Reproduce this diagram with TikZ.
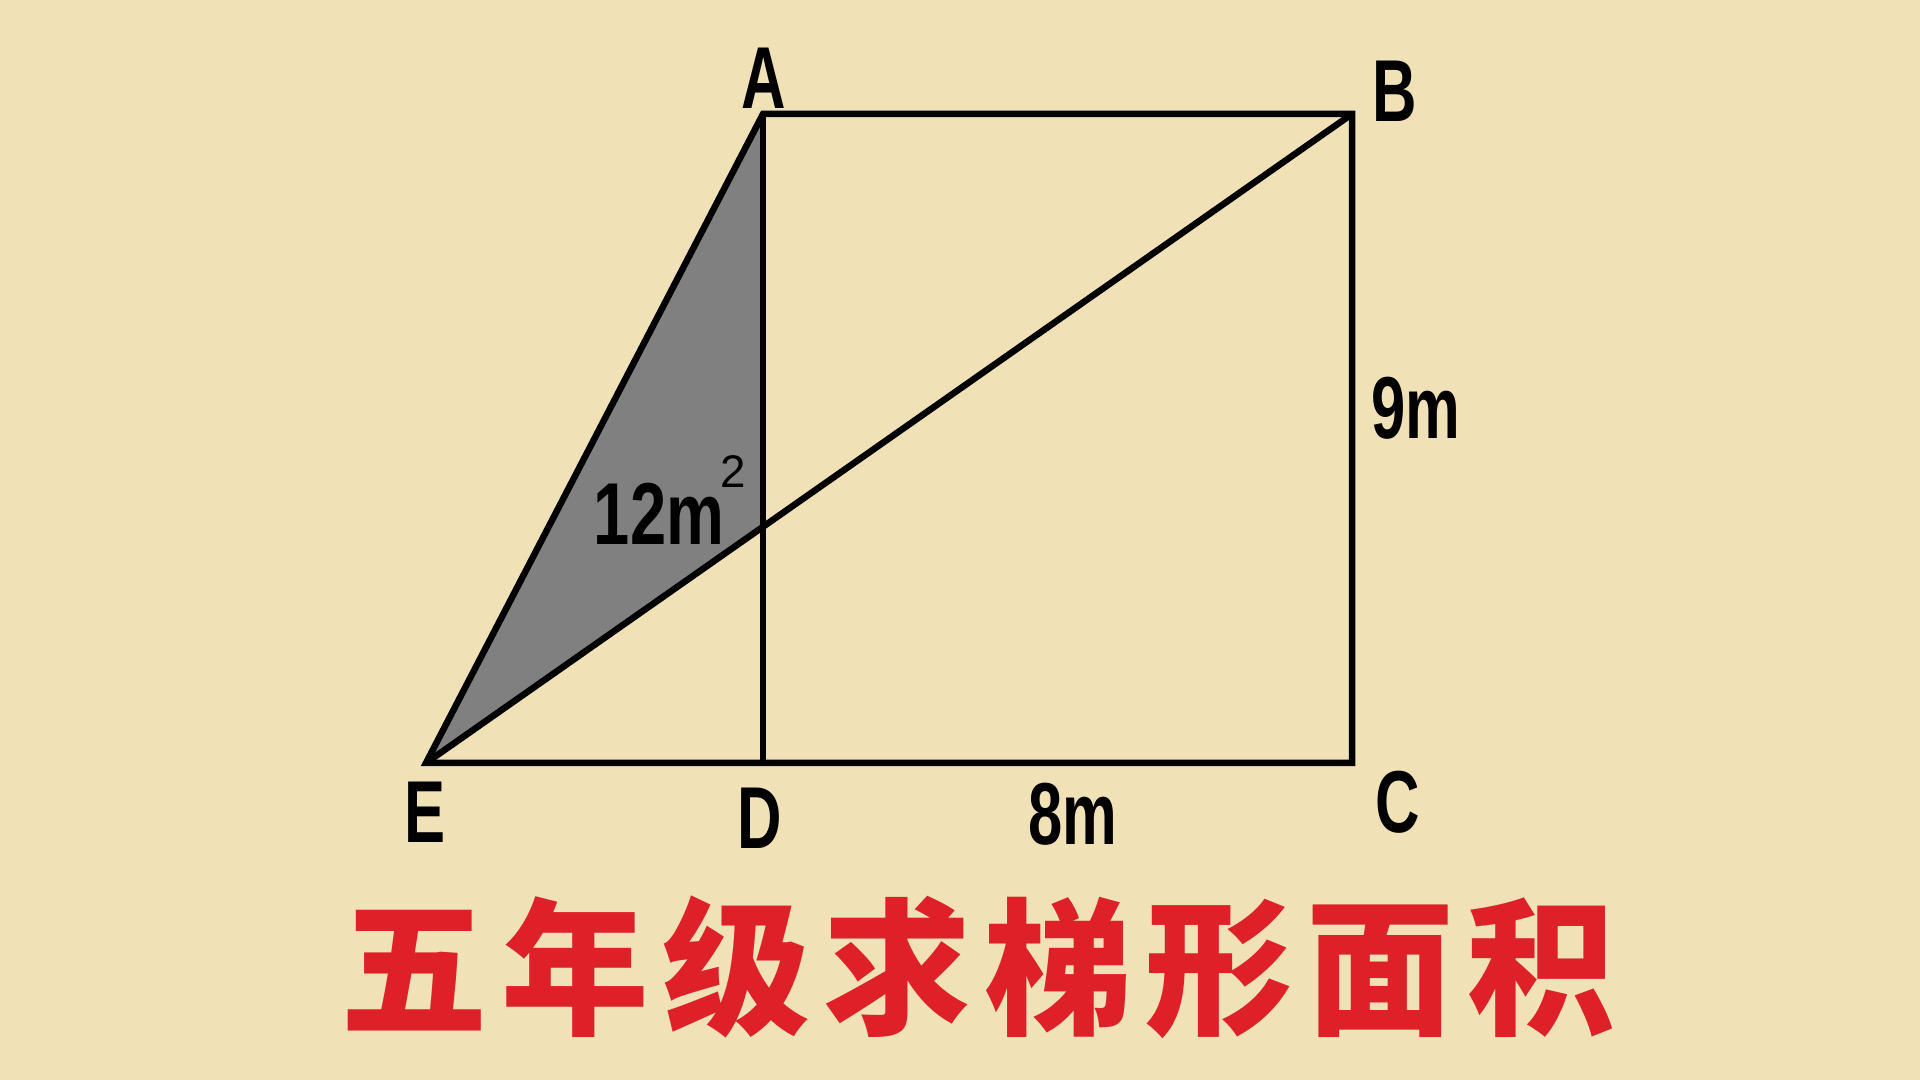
\documentclass[tikz,border=0pt]{standalone}
\usepackage{fontspec}
\setmainfont{Liberation Sans}
\newfontfamily\cjk{Noto Sans CJK SC}
\usetikzlibrary{calc}
\definecolor{bg}{RGB}{240,225,182}
\definecolor{shadegray}{RGB}{128,128,128}
\definecolor{titlered}{RGB}{222,32,40}
\tikzset{
  edge/.style={line width=0.065cm, line join=miter},
  inner/.style={line width=0.055cm},
  lbl/.style={font=\fontsize{25pt}{27pt}\selectfont\bfseries, inner sep=0pt},
  sup/.style={font=\fontsize{13pt}{14pt}\selectfont, inner sep=0pt},
  title/.style={font=\cjk\bfseries\fontsize{42pt}{45pt}\selectfont\addfontfeature{LetterSpace=9}, text=titlered, inner sep=0pt}
}
\newcommand{\cond}[1]{\scalebox{0.7}[1]{#1}}
\begin{document}
\begin{tikzpicture}[x=0.01cm,y=-0.01cm]
\fill[bg] (0,0) rectangle (1920,1080);
\useasboundingbox (0,0) rectangle (1920,1080);
\coordinate (A) at (763,114);
\coordinate (B) at (1352,114);
\coordinate (C) at (1352,763);
\coordinate (D) at (763,763);
\coordinate (E) at (426,763);
\coordinate (F) at (intersection of A--D and E--B);
\fill[shadegray] (A) -- (E) -- (F) -- cycle;
\draw[edge] (A) -- (B) -- (C) -- (E) -- cycle;
\draw[inner] (A) -- (D);
\draw[edge] (E) -- (B);
\node[lbl] (lA) at (764,78) {\cond{A}};
\node[lbl] (lB) at (1395,91) {\cond{B}};
\node[lbl] (lC) at (1398,802) {\cond{C}};
\node[lbl] (lD) at (760,818) {\cond{D}};
\node[lbl] (lE) at (425,812) {\cond{E}};
\node[lbl] (l9) at (1416,408) {\cond{9m}};
\node[lbl] (l8) at (1073,814) {\cond{8m}};
\node[lbl] (l12) at (659,514) {\scalebox{0.74}[1]{12m}};
\node[sup] (l2) at (733,472) {2};
\node[title] (t) at (978,967) {五年级求梯形面积};
\end{tikzpicture}
\end{document}
